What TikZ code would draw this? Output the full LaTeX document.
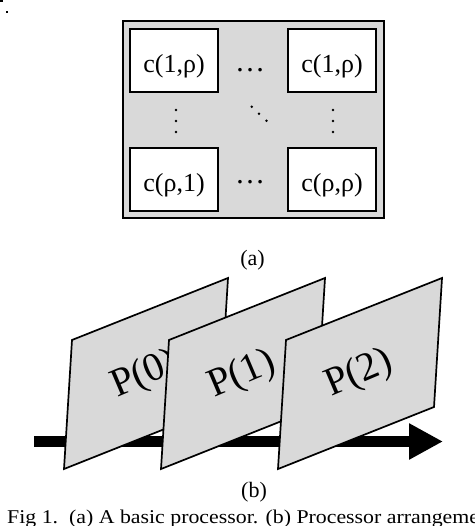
\documentclass[tikz,border=0pt]{standalone}
\usepackage{fontspec}
\setmainfont{Liberation Serif}
\usetikzlibrary{arrows.meta}
\begin{document}
\begin{tikzpicture}[x=1pt,y=-1pt,
  outerbox/.style={draw, line width=2pt, fill=black!15, inner sep=0pt},
  cell/.style={draw, line width=2pt, fill=white, minimum width=88pt, inner sep=0pt,
    text height=44pt, text depth=19pt, font=\fontsize{26}{30}\selectfont},
  hdots/.style={anchor=base, inner sep=0pt, font=\fontsize{30}{34}\selectfont},
  dotmark/.style={fill=black},
  panel/.style={draw, line width=1.7pt, fill=black!15, line join=miter},
  ptext/.style={font=\fontsize{40}{44}\selectfont, inner sep=0pt},
  sublabel/.style={anchor=base, inner sep=0pt, font=\fontsize{22}{26}\selectfont},
  flow/.style={line width=11pt, -{Triangle[length=34pt,width=34pt]}}
]
\useasboundingbox (0,0) rectangle (474,526);
% stray mark
\fill (0,0) rectangle (3,2.5);
\fill (5.7,10.7) rectangle (8.3,13.3);
% (a) basic processor
\node[outerbox, minimum width=261.5pt, minimum height=197pt] (proc) at (253.25,119.5) {};
\node[cell] (c1r) at (174,60.5) {c(1,ρ)};
\node[cell] (c1rb) at (332,60.5) {c(1,ρ)};
\node[cell] (cr1) at (174,179.5) {c(ρ,1)};
\node[cell] (crr) at (332,179.5) {c(ρ,ρ)};
\node[hdots] (htop) at (250,71.5) {…};
\node[hdots] (hbot) at (250,183.5) {…};
\foreach \yy in {110,121,132} {
  \fill[dotmark] (176,\yy) circle (1.4);
  \fill[dotmark] (333,\yy) circle (1.4);
}
\fill[dotmark] (251.7,106.7) circle (1.4);
\fill[dotmark] (259,113.7) circle (1.4);
\fill[dotmark] (266.5,120.7) circle (1.4);
\node[sublabel] (la) at (252.5,265) {(a)};
% (b) processor arrangement
\coordinate (a0) at (34,441.5);
\coordinate (a1) at (443,441.5);
\draw[flow] (a0) -- (a1);
\draw[panel] (72,340) -- (228,278) -- (220,407) -- (64,469) -- cycle;
\node[ptext, rotate=23] (p0) at (145,375) {P(0)};
\draw[panel] (169,340) -- (325,278) -- (317,407) -- (161,469) -- cycle;
\node[ptext, rotate=23] (p1) at (242,375) {P(1)};
\draw[panel] (286,340) -- (442,278) -- (434,407) -- (278,469) -- cycle;
\node[ptext, rotate=23] (p2) at (359,374) {P(2)};
\node[sublabel] (lb) at (254,497) {(b)};
\node[anchor=base west, inner sep=0pt, font=\fontsize{19.5}{22}\selectfont] (cap) at (7,523)
  {\scalebox{1.12}[1]{Fig 1.\ \ (a) A basic processor. (b) Processor arrangeme}};
\end{tikzpicture}
\end{document}
